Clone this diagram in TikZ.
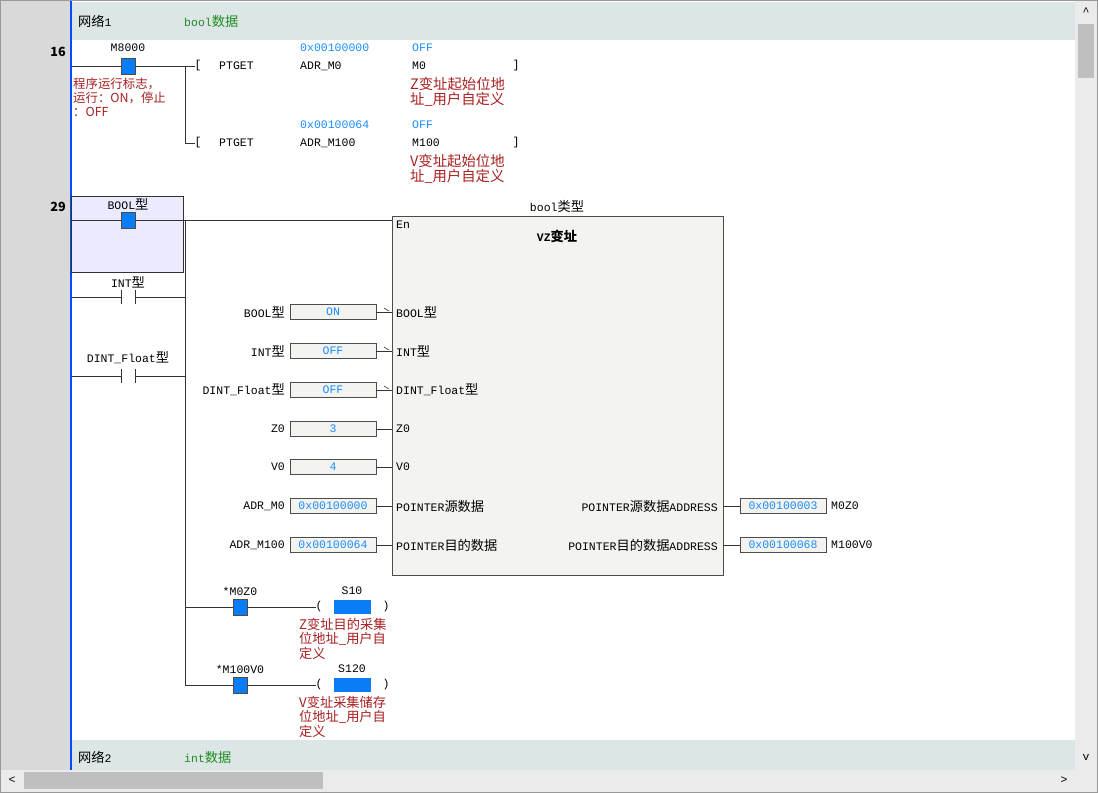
\documentclass[tikz,border=0pt]{standalone}
\usepackage{fontspec}
\setmainfont{Liberation Mono}
\newfontfamily\cj{Noto Sans CJK SC}[Scale=1.15]
\newcommand\C[1]{{\cj #1}}
\begin{document}
\begin{tikzpicture}[x=1pt,y=-1pt,
  t/.style={font=\fontsize{11.5}{12}\selectfont,inner sep=0pt},
  bt/.style={t,text=bluet},
  rt/.style={text=redt,align=left,anchor=north west,inner sep=0pt,font=\cj\fontsize{11.5}{14.5}\selectfont},
  ln/.style={draw=black!80,line width=0.8pt},
  ct/.style={fill=blueC,draw=black!70,minimum width=14pt,minimum height=16pt,inner sep=0pt},
  vb/.style={draw=black!70,fill=boxf,minimum width=86pt,minimum height=15pt,inner sep=0pt,font=\fontsize{11.5}{12}\selectfont,text=bluet}]
\definecolor{blueC}{HTML}{0A7CF5}\definecolor{bluet}{HTML}{1A8CFF}
\definecolor{redt}{HTML}{A82020}\definecolor{greent}{HTML}{1E8C1E}
\definecolor{band}{HTML}{DDE6E6}\definecolor{boxf}{HTML}{F3F3EF}
\useasboundingbox (0,0) rectangle (1098,793);
\fill[white] (0,0) rectangle (1098,793);
\fill[black!15] (0,0) rectangle (71,770);
\fill[band] (72,2) rectangle (1075,40);
\fill[band] (72,740) rectangle (1075,770);
\draw[blue!70!cyan,line width=1.5pt] (71,0) -- (71,770);
\fill[black!8] (1075,0) rectangle (1098,770);
\fill[black!25] (1078,24) rectangle (1094,78);
\fill[black!8] (0,770) rectangle (1098,793);
\fill[black!25] (24,772) rectangle (323,789);
\node[t] at (1086,12) {\^{}};
\node[t] at (1086,757) {v};
\node[t] at (12,780) {<}; \node[t] at (1064,780) {>};
\draw[black!40] (0.5,0.5) rectangle (1097.5,792.5);
% headers
\node[t,anchor=west] (n1) at (78,21) {\C{网络}1};
\node[t,anchor=west,text=greent] (n1c) at (184,21) {bool\C{数据}};
\node[t,anchor=west] (n2) at (78,757) {\C{网络}2};
\node[t,anchor=west,text=greent] (n2c) at (184,757) {int\C{数据}};
\node[t,font=\cj\bfseries\fontsize{11}{12}\selectfont,anchor=east] (r16) at (66,52) {16};
\node[t,font=\cj\bfseries\fontsize{11}{12}\selectfont,anchor=east] (r29) at (66,207) {29};
% rung 16
\node[ct] (m8000) at (128,66) {};
\node[t] (lm8000) at (128,48) {M8000};
\draw[ln] (72,66) -- (m8000.west); \draw[ln] (m8000.east) -- (185,66);
\node[rt,font=\cj\fontsize{10.8}{14}\selectfont] (c1) at (73,78) {程序运行标志，\\运行：ON，停止\\：OFF};
\draw[ln] (185,66) -- (185,143) -- (195,143);
\foreach \y/\a/\b/\c/\d/\e in {66/0x00100000/ADR\_M0/M0/Z/a,143/0x00100064/ADR\_M100/M100/V/b}{
  \draw[ln] (185,\y) -- (195,\y);
  \node[t] (lb\e) at (198,\y) {[};
  \node[t,anchor=west] (pt\e) at (219,\y) {PTGET};
  \node[t,anchor=west] (ad\e) at (300,\y) {\b};
  \node[t,anchor=west] (mm\e) at (412,\y) {\c};
  \node[t] (rb\e) at (516,\y) {]};
  \node[bt,anchor=west] (hx\e) at (300,\y-18) {\a};
  \node[bt,anchor=west] (of\e) at (412,\y-18) {OFF};
  \node[rt,font=\cj\fontsize{12.5}{15}\selectfont] (cm\e) at (410,\y+11) {\d 变址起始位地\\址\_用户自定义};
}
% rung 29
\draw[black!80,fill=blue!8] (71.5,196) rectangle (183,272);
\node[ct] (bool) at (128,220) {};
\node[t] at (128,204) {BOOL\C{型}};
\draw[ln] (72,220) -- (bool.west);
\draw[ln] (bool.east) -- (392,220);
\node[t] at (128,282) {INT\C{型}};
\node[t] at (128,358) {DINT\_Float\C{型}};
\foreach \y/\n in {297/i,376/d}{
  \draw[ln] (72,\y) -- (121,\y); \draw[ln] (135,\y) -- (185,\y);
  \draw[ln] (121,\y-7) -- (121,\y+7); \draw[ln] (135,\y-7) -- (135,\y+7);
}
\draw[ln] (185,220) -- (185,685);
\node[draw=black!70,fill=boxf,minimum width=331pt,minimum height=359pt,anchor=north west,inner sep=0pt] (vz) at (392,216) {};
\node[t] at (557,206) {bool\C{类型}};
\node[t,anchor=west] at (396,225) {En};
\node[t,font=\bfseries\fontsize{11.5}{12}\selectfont] at (557,236) {VZ\C{变址}};
\foreach \y/\l/\v/\p/\k in {312/BOOL\C{型}/ON/BOOL\C{型}/1,351/INT\C{型}/OFF/INT\C{型}/1,390/DINT\_Float\C{型}/OFF/DINT\_Float\C{型}/1,429/Z0/3/Z0/0,467/V0/4/V0/0,506/ADR\_M0/0x00100000/POINTER\C{源数据}/0,545/ADR\_M100/0x00100064/POINTER\C{目的数据}/0}{
  \node[vb] (b\y) at (333,\y) {\v};
  \node[t,anchor=east] at (285,\y) {\l};
  \draw[ln] (b\y.east) -- (392,\y);
  \node[t,anchor=west] at (396,\y) {\p};
  \ifnum\k=1 \draw[black!80,line width=0.6pt] (384,\y-4) -- (389,\y-1); \fi
}
\foreach \y/\p/\v/\o in {506/POINTER\C{源数据}ADDRESS/0x00100003/M0Z0,545/POINTER\C{目的数据}ADDRESS/0x00100068/M100V0}{
  \node[t,anchor=east] at (718,\y) {\p};
  \node[vb] (o\y) at (783,\y) {\v};
  \draw[ln] (723,\y) -- (o\y.west);
  \node[t,anchor=west] at (831,\y) {\o};
}
% coils
\foreach \y/\c/\s/\d/\e in {607/*M0Z0/S10/Z变址目的采集/p,685/*M100V0/S120/V变址采集储存/q}{
  \node[ct] (k\e) at (240,\y) {};
  \node[t] at (240,\y-16) {\c};
  \draw[ln] (185,\y) -- (k\e.west); \draw[ln] (k\e.east) -- (316,\y);
  \node[t] at (319,\y) {(};
  \node[fill=blueC,minimum width=37pt,minimum height=14pt,inner sep=0pt] (s\e) at (352,\y) {};
  \node[t] at (386,\y) {)};
  \node[t] at (352,\y-16) {\s};
  \node[rt] at (299,\y+11) {\d\\位地址\_用户自\\定义};
}
\end{tikzpicture}
\end{document}
